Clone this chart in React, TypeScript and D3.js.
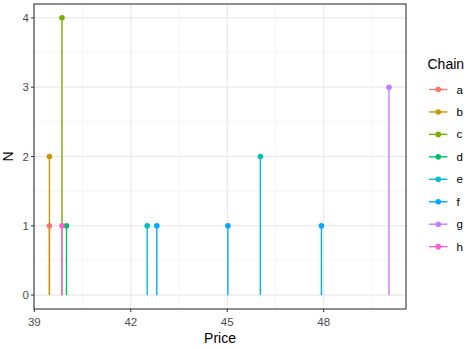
import React from "react";
import * as d3 from "d3";

const chains = ["a", "b", "c", "d", "e", "f", "g", "h"];
const colors = ["#F8766D", "#CD9600", "#7CAE00", "#00BE67", "#00BFC4", "#00A9FF", "#C77CFF", "#FF61CC"];
const pointChain = ["a", "b", "c", "h", "d", "e", "f", "f", "e", "f", "g"];
const pointPrice = [39.47, 39.47, 39.86, 39.86, 40.0, 42.51, 42.81, 45.02, 46.03, 47.93, 50.03];
const pointN = [1, 2, 4, 1, 1, 1, 1, 1, 2, 1, 3];
const xTicks = [39, 42, 45, 48];
const yTicks = [0, 1, 2, 3, 4];

const W = 474, H = 349;
const panel = { left: 34, top: 4, right: 406, bottom: 309 };

export default function App() {
  const x = d3.scaleLinear().domain([38.99, 50.56]).range([panel.left, panel.right]);
  const y = d3.scaleLinear().domain([-0.2, 4.2]).range([panel.bottom, panel.top]);
  const color = d3.scaleOrdinal<string, string>().domain(chains).range(colors);
  const xMinor = xTicks.map((t) => t + 1.5).filter((t) => x(t) < panel.right);
  const yMinor = yTicks.slice(0, -1).map((t) => t + 0.5);
  const pts = pointPrice.map((p, i) => ({ p, n: pointN[i], c: pointChain[i] }));
  const order = chains;
  const sorted = [...pts].sort((a, b) => order.indexOf(a.c) - order.indexOf(b.c));
  const font = "Liberation Sans, Arial, sans-serif";

  return (
    <svg width={W} height={H} style={{ position: "absolute", left: 0, top: 0, background: "#fff" }} fontFamily={font}>
      <rect x={0} y={0} width={W} height={H} fill="#fff" />
      {/* grid */}
      {xMinor.map((t) => (
        <line key={"xm" + t} x1={x(t)} x2={x(t)} y1={panel.top} y2={panel.bottom} stroke="#f0f0f0" strokeWidth={0.6} />
      ))}
      {yMinor.map((t) => (
        <line key={"ym" + t} y1={y(t)} y2={y(t)} x1={panel.left} x2={panel.right} stroke="#f0f0f0" strokeWidth={0.6} />
      ))}
      {xTicks.map((t) => (
        <line key={"xg" + t} x1={x(t)} x2={x(t)} y1={panel.top} y2={panel.bottom} stroke="#e6e6e6" strokeWidth={1} />
      ))}
      {yTicks.map((t) => (
        <line key={"yg" + t} y1={y(t)} y2={y(t)} x1={panel.left} x2={panel.right} stroke="#e6e6e6" strokeWidth={1} />
      ))}
      {/* stems */}
      {sorted.map((d, i) => (
        <line key={"s" + i} x1={x(d.p)} x2={x(d.p)} y1={y(0)} y2={y(d.n)} stroke={color(d.c)} strokeWidth={1.4} />
      ))}
      {sorted.map((d, i) => (
        <circle key={"p" + i} cx={x(d.p)} cy={y(d.n)} r={2.8} fill={color(d.c)} />
      ))}
      {/* border */}
      <rect x={panel.left} y={panel.top} width={panel.right - panel.left} height={panel.bottom - panel.top} fill="none" stroke="#333" strokeWidth={1.1} />
      {/* axes ticks */}
      {xTicks.map((t) => (
        <g key={"xt" + t}>
          <line x1={x(t)} x2={x(t)} y1={panel.bottom} y2={panel.bottom + 3} stroke="#333" strokeWidth={1} />
          <text x={x(t)} y={panel.bottom + 17} textAnchor="middle" fontSize={11.5} fill="#4d4d4d">{t}</text>
        </g>
      ))}
      {yTicks.map((t) => (
        <g key={"yt" + t}>
          <line x1={panel.left - 3} x2={panel.left} y1={y(t)} y2={y(t)} stroke="#333" strokeWidth={1} />
          <text x={panel.left - 5} y={y(t)} dy="0.35em" textAnchor="end" fontSize={11.5} fill="#4d4d4d">{t}</text>
        </g>
      ))}
      <text x={(panel.left + panel.right) / 2} y={343} textAnchor="middle" fontSize={14} fill="#000">Price</text>
      <text transform={`translate(13,${(panel.top + panel.bottom) / 2}) rotate(-90)`} textAnchor="middle" fontSize={14} fill="#000">N</text>
      {/* legend */}
      <text x={427.5} y={69} fontSize={14} fill="#000">Chain</text>
      {chains.map((c, i) => {
        const cy = 89.5 + i * 22.45;
        return (
          <g key={"lg" + c}>
            <line x1={429} x2={447.5} y1={cy} y2={cy} stroke={color(c)} strokeWidth={1.4} />
            <circle cx={438.3} cy={cy} r={2.8} fill={color(c)} />
            <text x={456.5} y={cy} dy="0.35em" fontSize={11.5} fill="#000">{c}</text>
          </g>
        );
      })}
    </svg>
  );
}
